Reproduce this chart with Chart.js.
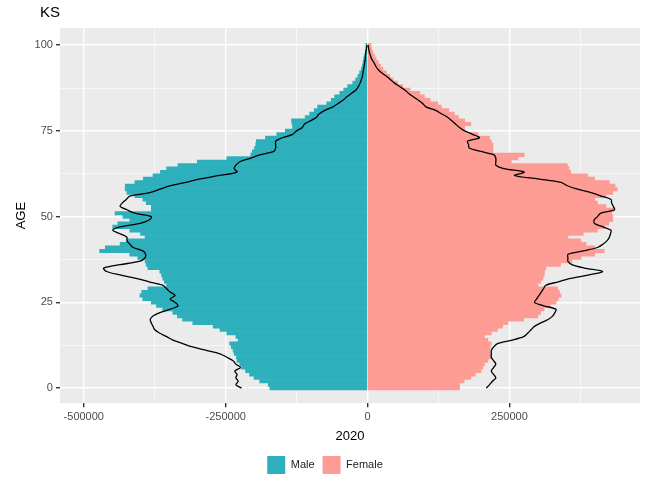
<!DOCTYPE html>
<html><head><meta charset="utf-8">
<script src="https://cdn.jsdelivr.net/npm/chart.js@4/dist/chart.umd.min.js"></script>
<style>body{margin:0;background:#fff}#w{width:652px;height:488px;position:relative}</style>
</head><body><div id="w"><canvas id="c"></canvas></div>
<script>
const ages = Array.from({length:101},(_,i)=>i);
// thousands
const maleBars = [172,175,190,200,208,215,222,225,230,231,235,237,240,243,228,232,248,260,272,308,326,335,343,361,372,381,396,401,398,387,354,358,361,363,366,387,390,392,405,419,472,462,436,424,392,400,419,449,440,419,431,445,381,381,390,396,410,424,427,427,410,395,378,365,354,334,300,248,206,203,199,197,196,180,160,145,132,133,134,110,102,94,88,72,64,58,49,42,35,26,21,17,14,11,9,8,7,5,4,3,3];
const maleLine = [222,232,228,232,230,234,224,232,237,248,260,284,308,326,343,354,366,375,378,381,383,378,366,348,334,339,348,339,348,354,361,385,408,436,460,465,436,401,392,391,396,413,419,424,424,436,449,436,401,385,381,410,424,436,432,425,419,384,366,348,320,295,261,230,235,232,225,207,190,165,162,162,162,150,132,125,115,111,100,90,85,75,61,52,43,36,28,20,16,13,11,9,8,7,6,5,4,4,3,2,1];
const femaleBars = [162,162,170,182,190,200,203,206,212,218,216,215,216,218,212,206,218,229,238,247,275,300,305,311,322,332,336,341,338,335,300,305,309,311,312,314,340,360,376,400,417,400,385,376,353,380,405,417,425,432,432,430,435,420,405,400,420,432,440,436,426,400,388,358,355,352,253,265,276,221,221,221,218,215,195,171,171,182,171,160,153,143,130,124,110,100,92,75,62,53,45,39,33,27,23,19,15,12,9,7,6];
const femaleLine = [209,215,220,226,222,218,222,226,222,218,218,218,222,229,255,275,282,288,294,305,318,326,330,332,310,294,298,302,306,310,314,336,358,390,414,382,360,353,353,353,380,405,415,422,426,428,429,415,400,399,405,411,435,433,430,429,412,394,370,352,341,300,259,276,240,226,226,226,223,200,179,178,176,197,185,171,162,155,148,141,130,120,103,97,89,80,72,65,56,47,40,33,24,18,14,11,7,5,3,2,1];
const xTicks = [-500000,-250000,0,250000];
const yTicks = [0,25,50,75,100];

const pts = (arr,sign)=>arr.map((v,i)=>({x:sign*v*1000,y:ages[i]}));
const isMaj = (c,list)=>c.tick ? list.includes(c.tick.value) : false;
new Chart(document.getElementById('c'),{
  data:{datasets:[
    {type:'line',label:'m2',data:pts(maleLine,-1),borderColor:'#000',borderWidth:1.3,pointRadius:0,tension:0.3,indexAxis:'y',order:0},
    {type:'line',label:'f2',data:pts(femaleLine,1),borderColor:'#000',borderWidth:1.3,pointRadius:0,tension:0.3,indexAxis:'y',order:0},
    {type:'bar',label:'Male',data:pts(maleBars,-1),backgroundColor:'#2EB0BC',borderWidth:0,barPercentage:1,categoryPercentage:1,stack:'s',order:1},
    {type:'bar',label:'Female',data:pts(femaleBars,1),backgroundColor:'#FD9B95',borderWidth:0,barPercentage:1,categoryPercentage:1,stack:'s',order:1}
  ]},
  options:{
    indexAxis:'y',responsive:true,maintainAspectRatio:false,animation:false,
    layout:{padding:{left:10,right:12,top:28,bottom:4}},
    plugins:{
      title:{display:false},
      legend:{position:'bottom',labels:{filter:i=>i.text==='Male'||i.text==='Female',boxWidth:18,boxHeight:18,color:'#222',font:{family:'Liberation Sans',size:11},padding:8}},
      tooltip:{enabled:false}
    },
    scales:{
      x:{type:'linear',min:-542000,max:480000,stacked:false,
        afterBuildTicks:s=>{s.ticks=[-500000,-375000,-250000,-125000,0,125000,250000,375000].map(v=>({value:v}));},
        ticks:{color:'#4D4D4D',font:{family:'Liberation Sans',size:11},callback:v=>xTicks.includes(v)?String(v):'',maxRotation:0,autoSkip:false},
        grid:{color:'#ffffff',lineWidth:c=>isMaj(c,xTicks)?1.4:0.6,tickColor:c=>isMaj(c,xTicks)?'#333':'rgba(0,0,0,0)',tickLength:4},
        border:{display:false},
        title:{display:true,text:'2020',color:'#000',font:{family:'Liberation Sans',size:13},padding:{top:2}}
      },
      y:{type:'linear',min:-4.4,max:105,stacked:true,offset:false,
        afterBuildTicks:s=>{s.ticks=[0,12.5,25,37.5,50,62.5,75,87.5,100].map(v=>({value:v}));},
        ticks:{color:'#4D4D4D',font:{family:'Liberation Sans',size:11},callback:v=>yTicks.includes(v)?String(v):'',autoSkip:false},
        grid:{offset:false,color:'#ffffff',lineWidth:c=>isMaj(c,yTicks)?1.4:0.6,tickColor:c=>isMaj(c,yTicks)?'#333':'rgba(0,0,0,0)',tickLength:4},
        border:{display:false},
        title:{display:true,text:'AGE',color:'#000',font:{family:'Liberation Sans',size:13},padding:{bottom:2}}
      }
    }
  },
  plugins:[{id:'bg',beforeDraw(ch){const a=ch.chartArea,c=ch.ctx;c.save();c.fillStyle='#EBEBEB';c.fillRect(a.left,a.top,a.right-a.left,a.bottom-a.top);
    c.fillStyle='#000';c.font='15px "Liberation Sans"';c.textBaseline='middle';c.fillText('KS',40,13);c.restore();}}]
});
</script></body></html>
